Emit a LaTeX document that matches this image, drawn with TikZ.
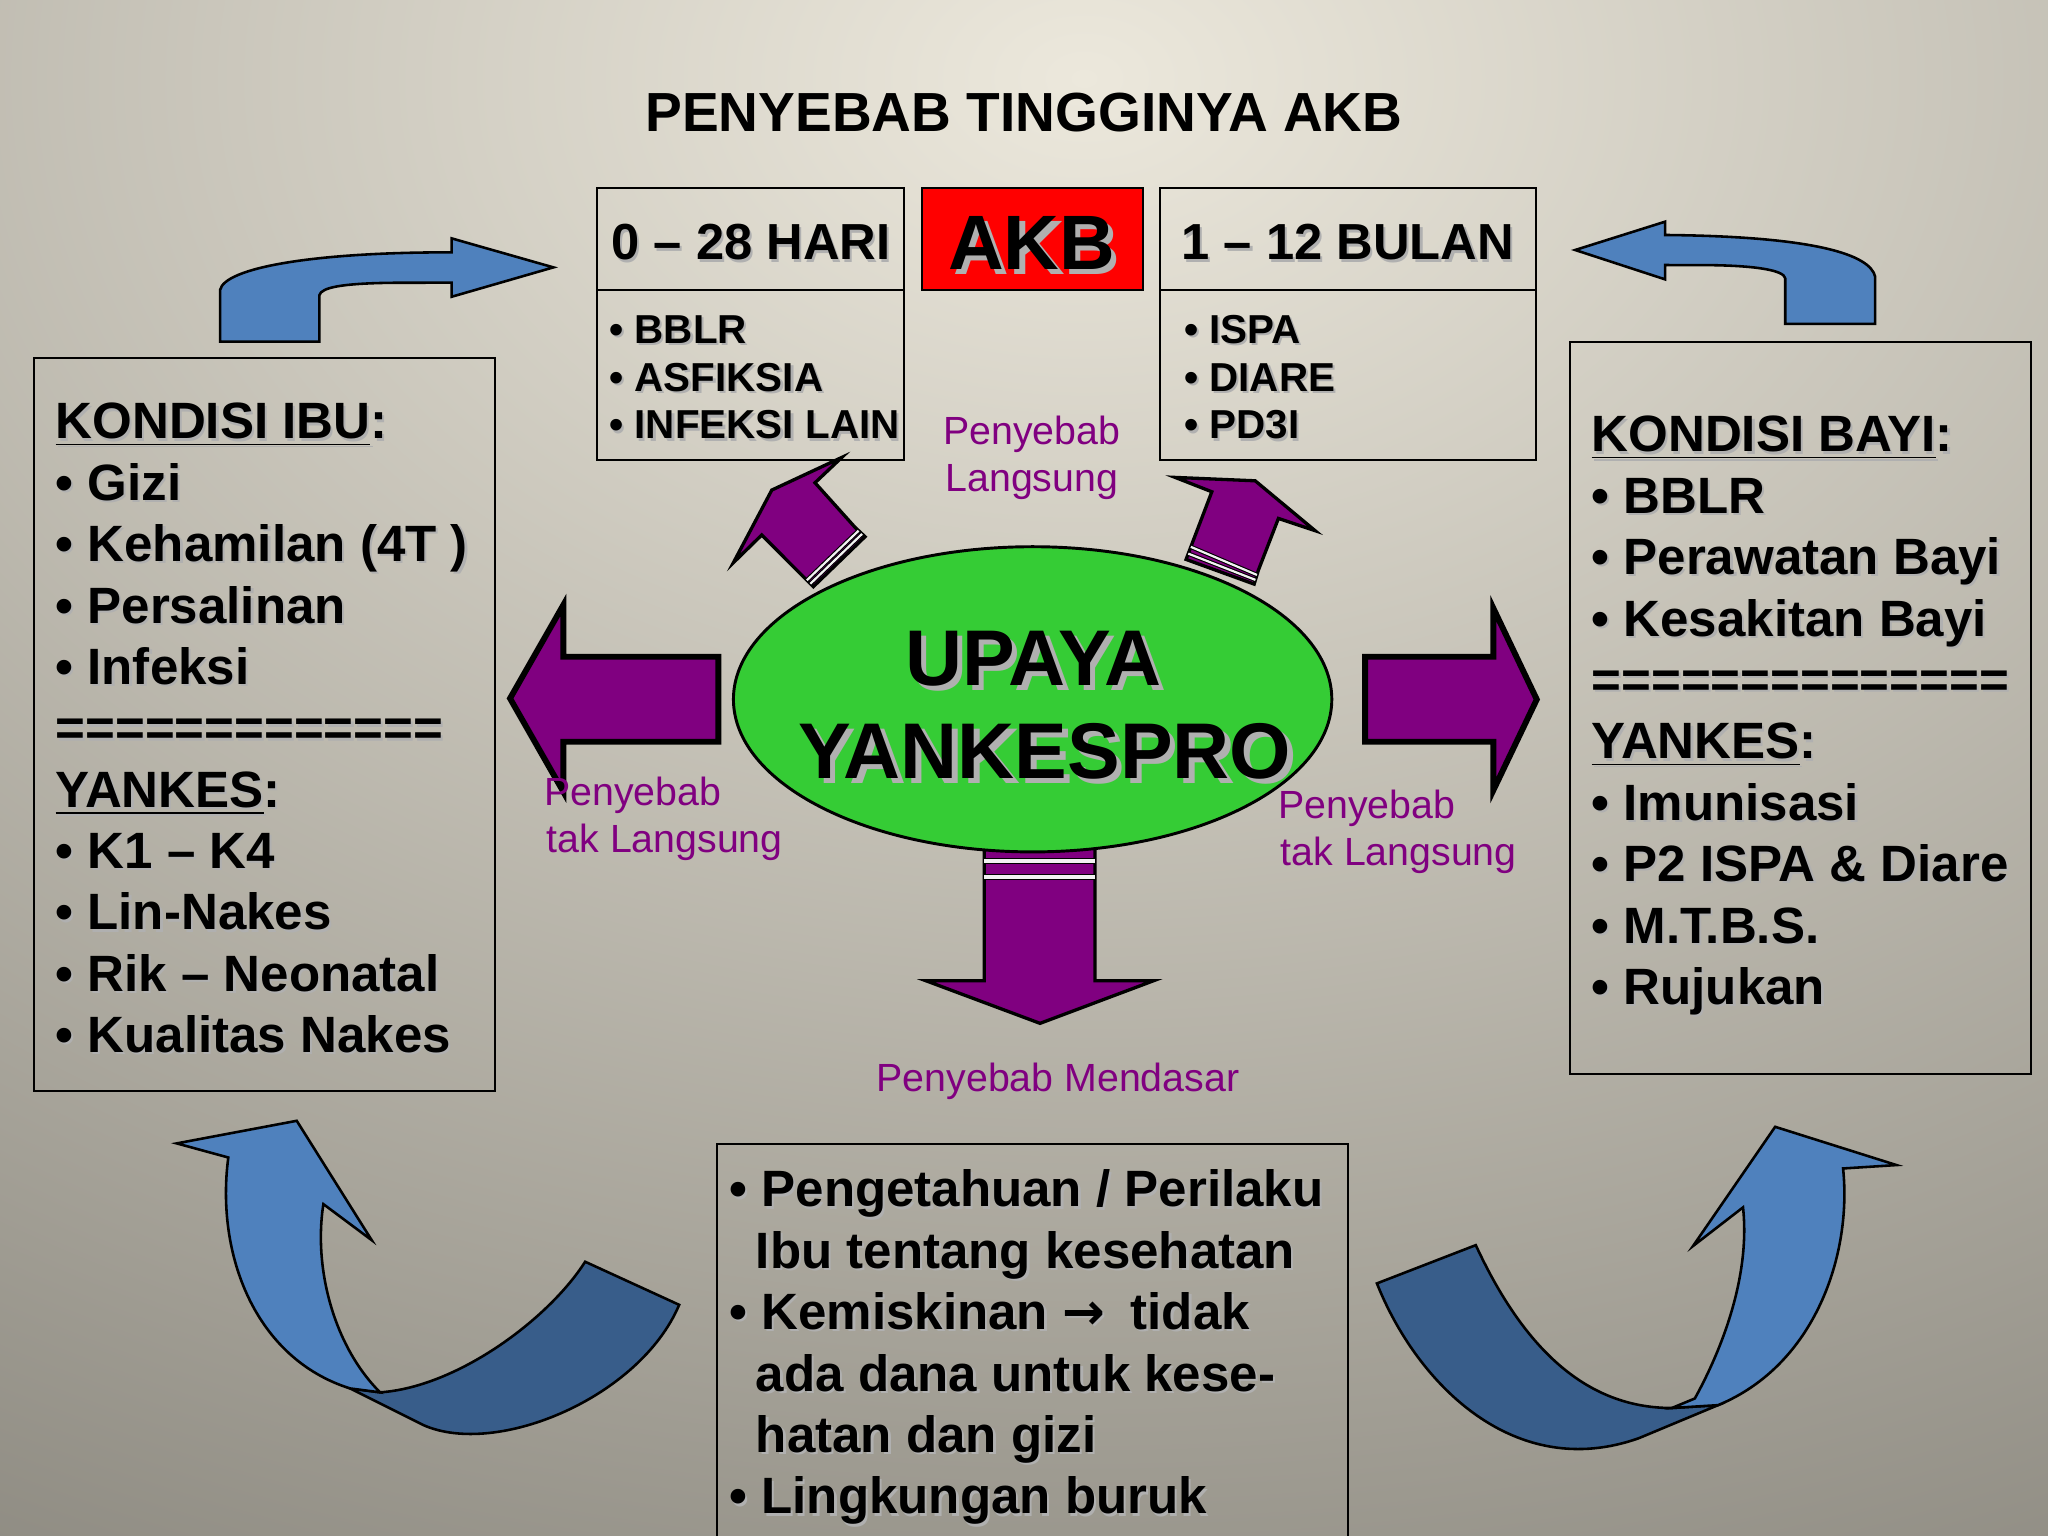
\documentclass[tikz,border=0pt]{standalone}
\usepackage{fontspec}
\setmainfont{Liberation Sans}
\newfontfamily\arrowfont{DejaVu Sans}
\usepackage{xcolor}
\usepackage{tikz}
\usetikzlibrary{shapes.geometric,calc}

\definecolor{bginner}{HTML}{ECE8DC}
\definecolor{bgouter}{HTML}{86837A}
\definecolor{upgreen}{HTML}{35CC35}
\definecolor{akbred}{HTML}{FF0000}
\definecolor{purp}{HTML}{800080}
\definecolor{lightblue}{HTML}{4F81BD}
\definecolor{darkblue}{HTML}{385D8A}
\definecolor{shgray}{HTML}{B0B0B0}

\newcommand\sh[1]{\makebox[0pt][l]{\kern0.6pt\raisebox{-0.6pt}{\textcolor{shgray}{#1}}}#1}
\newcommand\bigsh[1]{\makebox[0pt][l]{\kern1.4pt\raisebox{-1.4pt}{\textcolor{shgray}{#1}}}#1}

\begin{document}
\begin{tikzpicture}[x=0.0125cm,y=-0.0125cm,
	boxline/.style={draw=black,line width=0.6pt},
	bodytext/.style={anchor=base west,inner sep=0pt,font={\fontsize{13.9pt}{16pt}\selectfont\bfseries}},
	itemtext/.style={anchor=base west,inner sep=0pt,font={\fontsize{11pt}{13pt}\selectfont\bfseries}},
	purptext/.style={inner sep=0pt,text=purp,font={\fontsize{10.7pt}{12pt}\selectfont}},
	purparrow/.style={fill=purp,draw=black,line join=miter},
	bluearrow/.style={fill=lightblue,draw=black,line width=0.7pt,line join=miter},
	stripe/.style={draw=black,line width=0.3pt,double=white!90!gray,double distance=0.6pt}]
	\useasboundingbox (0,0) rectangle (1568,1176);
	
	% background
	\begin{scope}
		\clip (0,0) rectangle (1568,1176);
		\shade[inner color=bginner,outer color=bgouter] (830,60) ellipse [x radius=2000,y radius=1400];
	\end{scope}
	
	\node[anchor=base,inner sep=0pt,font={\fontsize{15pt}{18pt}\selectfont\bfseries}] (title) at (784,101) {PENYEBAB TINGGINYA AKB};
	
	% top boxes
	\draw[boxline] (457,144) rectangle (692,352);
	\draw[boxline] (457,222) -- (692,222);
	\draw[boxline,fill=akbred] (706,144) rectangle (875,222);
	\draw[boxline] (888,144) rectangle (1176,352);
	\draw[boxline] (888,222) -- (1176,222);
	\node[anchor=base,inner sep=0pt,font={\fontsize{13.8pt}{16pt}\selectfont\bfseries}] (hari) at (575,199) {\sh{0 – 28 HARI}};
	\node[anchor=base,inner sep=0pt,font={\fontsize{13.8pt}{16pt}\selectfont\bfseries}] (bulan) at (1032,199) {\sh{1 – 12 BULAN}};
	\node[anchor=base,inner sep=0pt,font={\fontsize{21pt}{24pt}\selectfont\bfseries}] (akb) at (790,206) {\bigsh{AKB}};
	\foreach \txt [count=\i from 0] in {BBLR,ASFIKSIA,INFEKSI LAIN}
		\node[itemtext] (hari\i) at (466,{263+36.5*\i}) {\sh{\textbullet\ \txt}};
	\foreach \txt [count=\i from 0] in {ISPA,DIARE,PD3I}
		\node[itemtext] (bulan\i) at (906,{263+36.5*\i}) {\sh{\textbullet\ \txt}};
	
	% side boxes
	\draw[boxline] (26,274) rectangle (379,835);
	\foreach \txt [count=\i from 0] in {\underline{KONDISI IBU}:,\textbullet\ Gizi,\textbullet\ Kehamilan (4T ),\textbullet\ Persalinan,\textbullet\ Infeksi,=============,\underline{YANKES}:,\textbullet\ K1 – K4,\textbullet\ Lin-Nakes,\textbullet\ Rik – Neonatal,\textbullet\ Kualitas Nakes}
		\node[bodytext] (ibu\i) at (42,{336+47*\i}) {\sh{\txt}};
	
	\draw[boxline] (1202,262) rectangle (1555,822);
	\foreach \txt [count=\i from 0] in {\underline{KONDISI BAYI}:,\textbullet\ BBLR,\textbullet\ Perawatan Bayi,\textbullet\ Kesakitan Bayi,==============,\underline{YANKES}:,\textbullet\ Imunisasi,\textbullet\ P2 ISPA \& Diare,\textbullet\ M.T.B.S.,\textbullet\ Rujukan}
		\node[bodytext] (bayi\i) at (1218,{346+47*\i}) {\sh{\txt}};
	
	% bottom box
	\draw[boxline] (549,876) rectangle (1032,1180);
	\foreach \txt [count=\i from 0] in {\textbullet\ Pengetahuan / Perilaku,\phantom{\textbullet\,}Ibu tentang kesehatan,\textbullet\ Kemiskinan {\arrowfont →}\enspace tidak,\phantom{\textbullet\,}ada dana untuk kese-,\phantom{\textbullet\,}hatan dan gizi,\textbullet\ Lingkungan buruk}
		\node[bodytext] (dasar\i) at (558,{924+47*\i}) {\sh{\txt}};
	
	% purple arrows round the ellipse
	\coordinate (ul3) at (654.7,403.8);
	\coordinate (ul4) at (662.3,410.9);
	\coordinate (ul5) at (622.7,449.2);
	\coordinate (ul6) at (615.1,441.6);
	\draw[purparrow,line width=0.9pt] (644.5,350.2) -- (624,369.6) -- (ul3) -- (ul4) -- (ul5) -- (ul6) -- (583.2,409.6) -- (561.5,430.8) -- (590.9,375.2) -- cycle;
	\foreach \f in {0.3,0.65}
		\draw[stripe] ($(ul4)!\f!(ul3)$) -- ($(ul5)!\f!(ul6)$);
	
	\coordinate (ur5) at (963.5,436.4);
	\coordinate (ur6) at (960.2,447.2);
	\coordinate (ur7) at (908.1,428.3);
	\coordinate (ur8) at (913.7,413.5);
	\draw[purparrow,line width=0.9pt] (899.7,365.5) -- (961,368.1) -- (1006.9,406.3) -- (978.8,396.9) -- (ur5) -- (ur6) -- (ur7) -- (ur8) -- (927.8,376.5) -- cycle;
	\foreach \f in {0.3,0.65}
		\draw[stripe] ($(ur7)!\f!(ur8)$) -- ($(ur6)!\f!(ur5)$);
	
	\draw[purparrow,line width=0.9pt] (753.5,630) -- (838.4,630) -- (838.4,750.9) -- (883.1,750.9) -- (796.3,783.5) -- (709,750.9) -- (753.5,750.9) -- cycle;
	\foreach \y in {659,671.6}
		\draw[stripe,double distance=1.1pt] (753.5,\y) -- (838.4,\y);
	
	\node[ellipse,draw=black,line width=0.8pt,fill=upgreen,minimum width=5.725cm,minimum height=2.92cm,inner sep=0pt] (upaya) at (790.6,535.4) {};
	\node[anchor=base,inner sep=0pt,font={\fontsize{21.5pt}{25pt}\selectfont\bfseries}] (upaya1) at (791,525) {\bigsh{UPAYA}};
	\node[anchor=base,inner sep=0pt,font={\fontsize{21.5pt}{25pt}\selectfont\bfseries}] (upaya2) at (800,596) {\bigsh{YANKESPRO}};
	
	\draw[purparrow,line width=1.6pt] (550,502.8) -- (431.3,502.8) -- (431.3,463.2) -- (390.5,534.7) -- (431.3,606.2) -- (431.3,567.9) -- (550,567.9) -- cycle;
	\draw[purparrow,line width=1.6pt] (1045.2,502.8) -- (1143.4,502.8) -- (1143.4,465.8) -- (1176.6,535.5) -- (1143.4,604.9) -- (1143.4,567.9) -- (1045.2,567.9) -- cycle;
	
	% blue arrows
	\draw[bluearrow] (168.5,261.6) -- (168.5,222) .. controls (172,205) and (240,193) .. (345.8,193.2) -- (345.8,182.5) -- (423.7,204.7) -- (345.8,227.2) -- (345.8,216.4) -- (300,216.5) .. controls (262,217) and (246,220) .. (244.5,226) -- (244.5,261.6) -- cycle;
	\draw[bluearrow] (1435.7,248) -- (1435.7,211.9) .. controls (1432,195) and (1390,181) .. (1274.9,179.9) -- (1274.9,169.7) -- (1206,191.4) -- (1274.9,213.9) -- (1274.9,202.9) -- (1310,203) .. controls (1345,203.5) and (1366,207) .. (1366.8,213.1) -- (1366.8,248) -- cycle;
	
	\draw[bluearrow,fill=darkblue] (268,1063) -- (324,1091) .. controls (380,1116) and (490,1070) .. (520,999) -- (448,966) .. controls (420,1010) and (350,1062) .. (291,1066) -- cycle;
	\draw[bluearrow] (268,1063) .. controls (195,1040) and (165,960) .. (174.8,886.2) -- (135.3,875.4) -- (227.2,858.1) -- (284.6,949.5) -- (247.6,921.9) .. controls (240,970) and (255,1030) .. (291,1066) -- cycle;
	
	\draw[bluearrow,fill=darkblue] (1054.2,982.6) -- (1129.9,953.3) .. controls (1170,1040) and (1220,1078) .. (1280,1078) -- (1315.4,1075.8) -- (1255,1101) .. controls (1160,1135) and (1085,1060) .. (1054.2,982.6) -- cycle;
	\draw[bluearrow] (1280,1078) -- (1297.6,1070.7) .. controls (1320,1030) and (1340,975) .. (1334.5,924.4) -- (1296.2,954) -- (1359.1,862.7) -- (1452,892) -- (1411.1,894.6) .. controls (1418,960) and (1390,1045) .. (1315.4,1075.8) -- cycle;
	
	% labels
	\node[purptext,anchor=base] (lang1) at (790,340) {Penyebab};
	\node[purptext,anchor=base] (lang2) at (790,376) {Langsung};
	\node[purptext,anchor=base west] (takl1) at (416,617) {Penyebab};
	\node[purptext,anchor=base west] (takl2) at (418,653) {tak Langsung};
	\node[purptext,anchor=base west] (takr1) at (978,627) {Penyebab};
	\node[purptext,anchor=base west] (takr2) at (980,663) {tak Langsung};
	\node[purptext,anchor=base] (mendasar) at (810,836) {Penyebab Mendasar};
\end{tikzpicture}
\end{document}
